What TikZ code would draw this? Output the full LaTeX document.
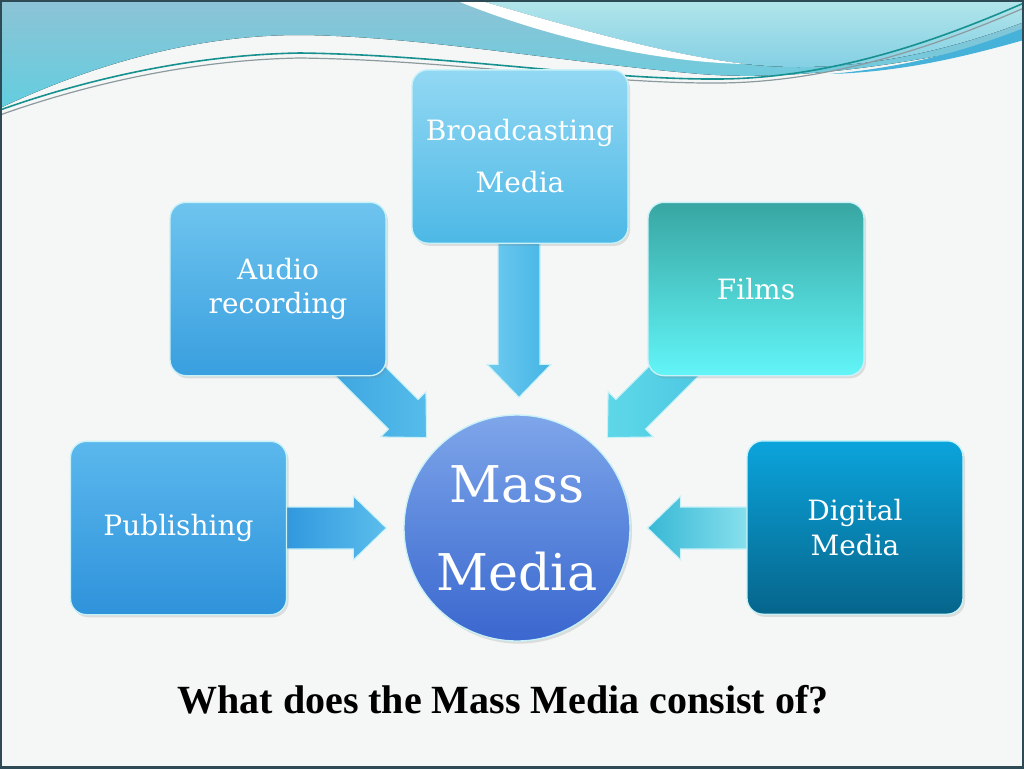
\documentclass[tikz,border=0pt]{standalone}
\usepackage{fontspec}
\setmainfont{DejaVu Serif}
\newfontfamily\titlefont{Liberation Serif}
\usetikzlibrary{calc,shadows}
\definecolor{bgc}{HTML}{F5F7F7}
\definecolor{framec}{HTML}{2E4A55}
\definecolor{bandtop}{HTML}{8DC3D6}
\definecolor{bandbot}{HTML}{62CEDF}
\definecolor{lighttop}{HTML}{B2E5EA}
\definecolor{lightbot}{HTML}{7ECDE3}
\definecolor{darkband}{HTML}{46B2D9}
\definecolor{lineteal}{HTML}{17918F}
\definecolor{linegray}{HTML}{8C9A9E}
\definecolor{edgec}{HTML}{C8F2F8}
\definecolor{mmtop}{HTML}{7FA6EA}
\definecolor{mmmid}{HTML}{5A86DC}
\definecolor{mmbot}{HTML}{3B67CF}
\definecolor{abcA}{HTML}{6ECBF0}
\definecolor{abcB}{HTML}{45B4E5}
\definecolor{aauA}{HTML}{3CA4E0}
\definecolor{aauB}{HTML}{55BCEA}
\definecolor{afiA}{HTML}{5ED8E8}
\definecolor{afiB}{HTML}{4CC6E2}
\definecolor{apuA}{HTML}{2E96DD}
\definecolor{apuB}{HTML}{5CBEEC}
\definecolor{adiA}{HTML}{38B8D6}
\definecolor{adiB}{HTML}{8CE2EE}
\definecolor{bcT}{HTML}{92D8F3}
\definecolor{bcB}{HTML}{4DB8E6}
\definecolor{auT}{HTML}{6EC4EE}
\definecolor{auB}{HTML}{399FDF}
\definecolor{fiT}{HTML}{38A6A2}
\definecolor{fiB}{HTML}{62F5F8}
\definecolor{puT}{HTML}{5BB8ED}
\definecolor{puB}{HTML}{2F93DB}
\definecolor{diT}{HTML}{0BA4DC}
\definecolor{diB}{HTML}{06658B}
\newcommand{\blockarr}[4]{%
  \begin{scope}[shift={#1},rotate=#2]
    \path[#4] (0,0) -- (-33,-32) -- (-33,-21) -- (-#3,-21) -- (-#3,21) -- (-33,21) -- (-33,32) -- cycle;
  \end{scope}}
\begin{document}
\begin{tikzpicture}[x=0.75pt,y=-0.75pt,
  box/.style={rectangle, rounded corners=12pt, minimum width=162pt, minimum height=130pt,
    inner sep=0pt, align=center, text=white, font=\fontsize{21}{26}\selectfont,
    draw=edgec, line width=1pt,
    drop shadow={shadow xshift=1.5pt, shadow yshift=-2pt, opacity=0.22}},
  arr/.style={draw=edgec, line width=0.8pt}]
\useasboundingbox (0,0) rectangle (1024,768);
\fill[bgc] (0,0) rectangle (1024,768);
% waves
\fill[top color=bandtop, bottom color=bandbot] (0,0) -- (1024,0) -- (1024,38)
  .. controls (920,62) and (800,82) .. (700,74)
  .. controls (560,62) and (420,36) .. (300,35)
  .. controls (170,35) and (60,80) .. (0,108) -- cycle;
\fill[top color=lighttop, bottom color=lightbot] (478,0)
  .. controls (580,30) and (670,55) .. (745,64)
  .. controls (850,76) and (950,50) .. (1024,22) -- (1024,0) -- cycle;
\fill[white] (455,0) -- (478,0) .. controls (580,30) and (670,55) .. (745,64)
  .. controls (650,62) and (540,35) .. (455,0) -- cycle;
\fill[darkband] (830,74) .. controls (920,66) and (980,45) .. (1024,28) -- (1024,40)
  .. controls (960,58) and (900,72) .. (830,74) -- cycle;
\draw[linegray, line width=0.9pt] (0,115) .. controls (70,90) and (180,60) .. (300,58)
  .. controls (450,60) and (600,84) .. (720,83) .. controls (840,82) and (950,40) .. (1024,8);
\draw[lineteal, line width=1.2pt] (0,110) .. controls (70,85) and (180,55) .. (300,53)
  .. controls (450,55) and (600,80) .. (720,79) .. controls (840,78) and (950,35) .. (1024,3);
% central node
\node[circle, minimum size=169.5pt, inner sep=0pt, draw=edgec, line width=1pt,
  top color=mmtop, bottom color=mmbot, middle color=mmmid,
  drop shadow={shadow xshift=1.5pt, shadow yshift=-2pt, opacity=0.22},
  text=white, align=center, font=\fontsize{38}{66}\selectfont] (mm) at (517,528) {Mass\\Media};
% arrows (drawn before boxes so that boxes cover their tails)
\blockarr{($(mm.north)+(2,-17)$)}{-90}{160}{arr, left color=abcA, right color=abcB}
\blockarr{($(mm.north west)+(-10,-10)$)}{-45}{125}{arr, left color=aauA, right color=aauB}
\blockarr{($(mm.north east)+(10,-10)$)}{-135}{125}{arr, left color=afiA, right color=afiB}
\blockarr{($(mm.west)+(-17,0)$)}{0}{105}{arr, left color=apuA, right color=apuB}
\blockarr{($(mm.east)+(17,0)$)}{180}{105}{arr, left color=adiA, right color=adiB}
% boxes
\node[box, top color=bcT, bottom color=bcB] (bc) at (520,156.5) {Broadcasting\\[13pt]Media};
\node[box, top color=auT, bottom color=auB] (au) at (278,289) {Audio\\recording};
\node[box, top color=fiT, bottom color=fiB] (fi) at (756,289) {Films};
\node[box, top color=puT, bottom color=puB] (pu) at (178.5,528) {Publishing};
\node[box, top color=diT, bottom color=diB] (di) at (855,527.5) {Digital\\Media};
% title
\node[font=\titlefont\bfseries\fontsize{30}{36}\selectfont, text=black] (title) at (503,700)
  {What does the Mass Media consist of?};
% frame
\draw[framec, line width=2.5pt] (0,0) rectangle (1024,768);
\end{tikzpicture}
\end{document}
